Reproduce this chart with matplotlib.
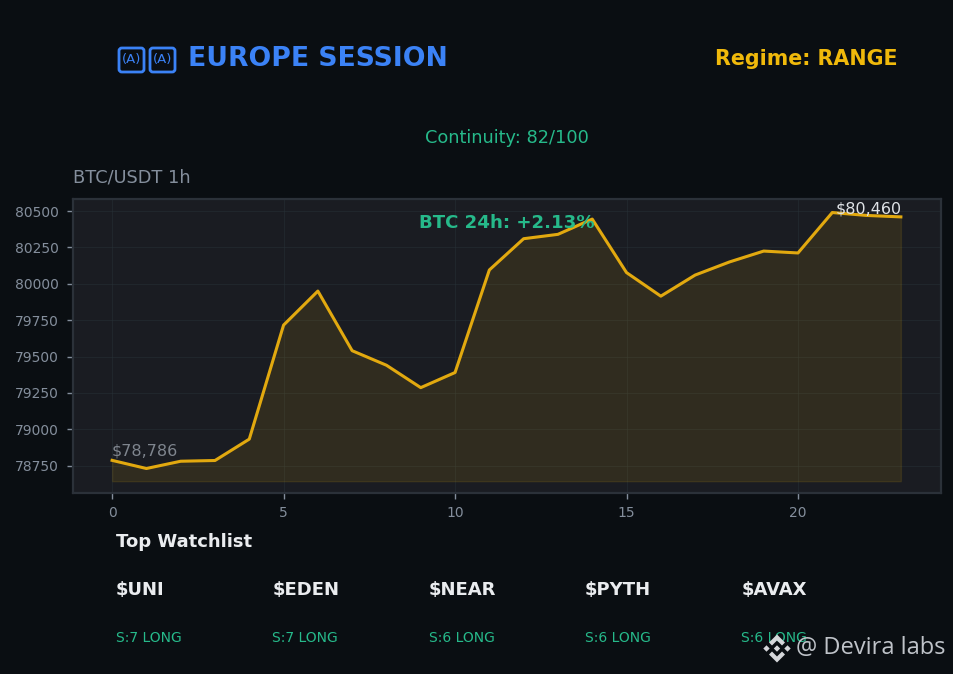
import matplotlib
matplotlib.use("Agg")
import matplotlib.pyplot as plt
from matplotlib.patches import Polygon, FancyBboxPatch

hours = list(range(24))
prices = [78786, 78730, 78780, 78785, 78932, 79716, 79950, 79540, 79440, 79286, 79390, 80095,
          80310, 80340, 80445, 80077, 79915, 80060, 80150, 80225, 80212, 80490, 80470, 80460]
fill_floor = 78643
y_ticks = [78750, 79000, 79250, 79500, 79750, 80000, 80250, 80500]
x_ticks = [0, 5, 10, 15, 20]
tickers = ["$UNI", "$EDEN", "$NEAR", "$PYTH", "$AVAX"]
signals = ["S:7 LONG", "S:7 LONG", "S:6 LONG", "S:6 LONG", "S:6 LONG"]

W, H = 954, 674
BG = "#0a0e12"
GREEN = "#26b98a"
BLUE = "#3b82f6"
fig = plt.figure(figsize=(W/100, H/100), dpi=100, facecolor=BG)
plt.rcParams['font.family'] = ['DejaVu Sans']

def fx(x): return x / W
def fy(y): return 1 - y / H

ax = fig.add_axes([fx(73), fy(492.5), (941-73)/W, (492.5-199)/H], facecolor="#1a1c22")
ax.plot(hours, prices, color="#e2a90f", lw=2.2, zorder=3)
ax.fill_between(hours, prices, fill_floor, color="#f0b90b", alpha=0.105, zorder=2)
ax.set_xlim(-1.14, 24.17)
ax.set_ylim(78565, 80583)
ax.set_xticks(x_ticks)
ax.set_yticks(y_ticks)
ax.grid(True, color="#2a343a", lw=0.6, alpha=0.5)
ax.set_axisbelow(True)
ax.tick_params(colors="#848e9c", labelsize=10, length=4, width=1, pad=6)
for s in ax.spines.values():
    s.set_color("#2b3139")
    s.set_linewidth(1.6)
ax.text(0, 78786 + 12, "$78,786", color="#7f858e", fontsize=11.5, va="bottom", ha="left")
ax.text(21.1, 80460, "$80,460", color="#dfe2e6", fontsize=11.5, va="bottom", ha="left")

# two boxed-A symbols in front of the title (no installed family has this glyph)
for x0 in (119, 150):
    fig.add_artist(FancyBboxPatch((fx(x0), fy(72)), 25/W, 24/H,
                                  boxstyle="round,pad=0,rounding_size=0.003",
                                  mutation_aspect=W/H, transform=fig.transFigure,
                                  fc="none", ec=BLUE, lw=2))
    fig.text(fx(x0+12.5), fy(60), "(A)", color=BLUE, fontsize=9.5, va="center", ha="center")
fig.text(fx(188), fy(59), "EUROPE SESSION", color=BLUE, fontsize=19.2, fontweight="bold", va="center", ha="left")
fig.text(fx(897.5), fy(59), "Regime: RANGE", color="#f0b90b", fontsize=14.9, fontweight="bold", va="center", ha="right")
fig.text(fx(507), fy(138), "Continuity: 82/100", color=GREEN, fontsize=12.8, va="center", ha="center")
fig.text(fx(73), fy(178), "BTC/USDT 1h", color="#848e9c", fontsize=12.8, va="center", ha="left")
fig.text(fx(507), fy(222.5), "BTC 24h: +2.13%", color=GREEN, fontsize=13.1, fontweight="bold", va="center", ha="center", zorder=5)
fig.text(fx(116), fy(542), "Top Watchlist", color="#eaecef", fontsize=13, fontweight="bold", va="center", ha="left")
for i, (t, s) in enumerate(zip(tickers, signals)):
    x = 116 + i * 156.3
    fig.text(fx(x), fy(590), t, color="#eaecef", fontsize=13, fontweight="bold", va="center", ha="left")
    fig.text(fx(x), fy(638), s, color=GREEN, fontsize=10, va="center", ha="left")

# watermark
fig.text(fx(796), fy(648), "@ Devira labs", color="#bfc3c9", fontsize=17, family="Open Sans", va="center", ha="left", zorder=9)
cx, cy = 777, 648.5
logo = [
    [(0, -14), (8, -6), (5, -3), (0, -8), (-5, -3), (-8, -6)],
    [(0, 14), (8, 6), (5, 3), (0, 8), (-5, 3), (-8, 6)],
    [(0, -3.2), (3.2, 0), (0, 3.2), (-3.2, 0)],
    [(-10.5, -3.2), (-7.3, 0), (-10.5, 3.2), (-13.7, 0)],
    [(10.5, -3.2), (13.7, 0), (10.5, 3.2), (7.3, 0)],
]
for pts in logo:
    fig.add_artist(Polygon([(fx(cx+a), fy(cy+b)) for a, b in pts], closed=True,
                           transform=fig.transFigure, fc="#d5d7da", ec="none", zorder=9))

fig.savefig("out.png", dpi=100, facecolor=BG)
